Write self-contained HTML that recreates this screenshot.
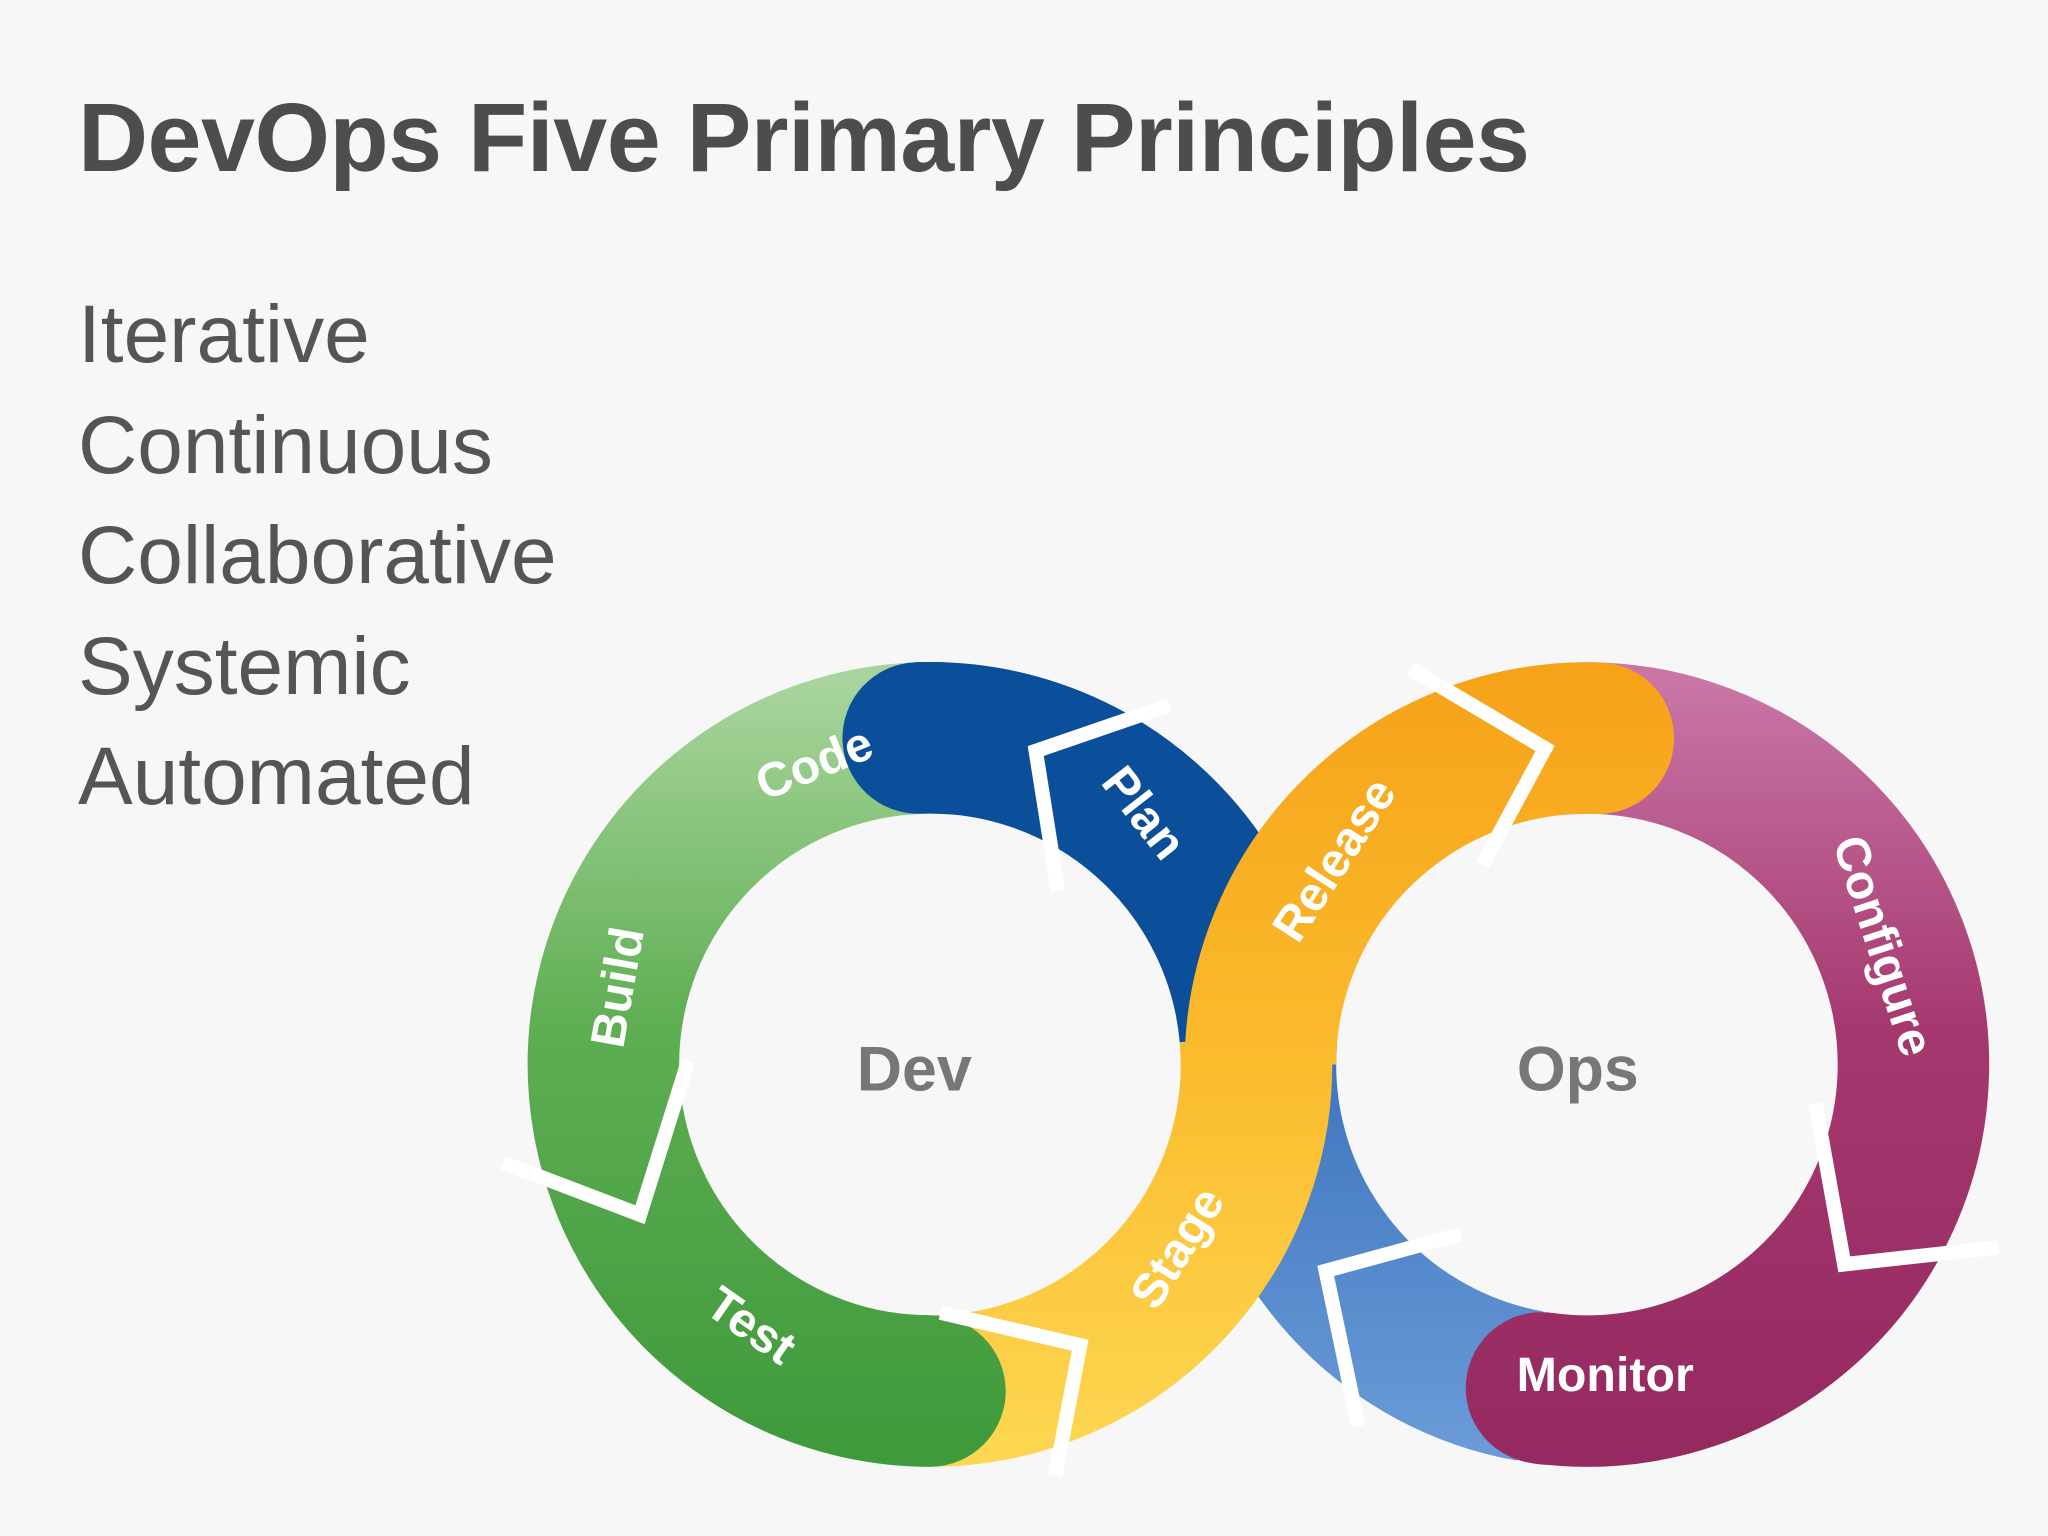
<!DOCTYPE html>
<html><head><meta charset="utf-8"><style>
html,body{margin:0;padding:0;background:#f7f7f7;}
body{width:2048px;height:1536px;overflow:hidden;position:relative;font-family:"Liberation Sans",sans-serif;}
h1{position:absolute;left:78px;top:82px;margin:0;font-size:97px;font-weight:bold;color:#4d4d4d;letter-spacing:-0.5px;}
.list{position:absolute;left:78px;top:280px;font-family:"Liberation Sans",sans-serif;font-size:82px;color:#555;line-height:110.5px;}
svg{position:absolute;left:0;top:0;}
</style></head><body>
<h1>DevOps Five Primary Principles</h1>
<div class="list">Iterative<br>Continuous<br>Collaborative<br>Systemic<br>Automated</div>
<svg width="2048" height="1536" viewBox="0 0 1568 1176">
<defs>
<linearGradient id="gy" gradientUnits="userSpaceOnUse" x1="0" y1="520" x2="0" y2="1120">
<stop offset="0" stop-color="#f6a31a"/><stop offset="0.5" stop-color="#fbbc2e"/><stop offset="1" stop-color="#fdd752"/></linearGradient>
<linearGradient id="gg" gradientUnits="userSpaceOnUse" x1="0" y1="520" x2="0" y2="1110">
<stop offset="0" stop-color="#a9d59d"/><stop offset="0.45" stop-color="#5eae52"/><stop offset="1" stop-color="#3f9a3c"/></linearGradient>
<linearGradient id="gm" gradientUnits="userSpaceOnUse" x1="0" y1="520" x2="0" y2="1110">
<stop offset="0" stop-color="#c976a6"/><stop offset="0.45" stop-color="#a5396f"/><stop offset="1" stop-color="#952a60"/></linearGradient>
<linearGradient id="gb" gradientUnits="userSpaceOnUse" x1="0" y1="800" x2="0" y2="1110">
<stop offset="0" stop-color="#3d74bd"/><stop offset="1" stop-color="#6a9bd8"/></linearGradient>
</defs>
<g fill="none" stroke-width="116">
<path d="M1171.6,1061.2 A250,250 0 0 1 966,793" stroke="url(#gb)"/>
<path d="M961,793.2 A250,250 0 0 1 716,1065" stroke="url(#gy)"/>
<path d="M712,1065 A250,250 0 0 1 465.8,858.4 A250,250 0 0 1 734,566" stroke="url(#gg)"/>
<path d="M712,1065 A250,250 0 0 1 690,1064" stroke="url(#gg)" stroke-linecap="round"/>
<path d="M703,565 A250,250 0 0 1 961,793" stroke="#0b4f9b"/>
<path d="M703,565 A250,250 0 0 1 720,565" stroke="#0b4f9b" stroke-linecap="round"/>
<path d="M1193,566 A250,250 0 1 1 1180.2,1062.6" stroke="url(#gm)"/>
<path d="M1185,1063.5 A250,250 0 0 1 1180.2,1062.6" stroke="url(#gm)" stroke-linecap="round"/>
<path d="M965,815 A250,250 0 0 1 1223.7,565.2" stroke="url(#gy)"/>
<path d="M1215,565 A250,250 0 0 1 1223.7,565.2" stroke="url(#gy)" stroke-linecap="round"/>
</g>
<g fill="none" stroke="#fff" stroke-width="11" stroke-linejoin="miter">
<polyline points="895,540 793,575 810,682"/>
<polyline points="385,890 490,930 527,812"/>
<polyline points="720,1005 827,1030 808,1130"/>
<polyline points="1080,512 1183,573 1135,662"/>
<polyline points="1390,845 1412,968 1530,955"/>
<polyline points="1118,945 1015,973 1040,1092"/>
</g>
<g fill="#fff" font-family="Liberation Sans, sans-serif" font-weight="bold" font-size="37" text-anchor="middle">
<text transform="translate(628,596) rotate(-22)">Code</text>
<text transform="translate(866,630) rotate(52)">Plan</text>
<text transform="translate(485,758) rotate(-80)">Build</text>
<text transform="translate(568,1025) rotate(35)">Test</text>
<text transform="translate(912,962) rotate(-58)">Stage</text>
<text transform="translate(1032,665) rotate(-57)">Release</text>
<text transform="translate(1430,728) rotate(72)">Configure</text>
<text transform="translate(1229,1065)">Monitor</text>
</g>
<g fill="#777" font-family="Liberation Sans, sans-serif" font-weight="bold" font-size="48" text-anchor="middle">
<text x="700" y="835">Dev</text>
<text x="1208" y="835">Ops</text>
</g>
</svg>
</body></html>
